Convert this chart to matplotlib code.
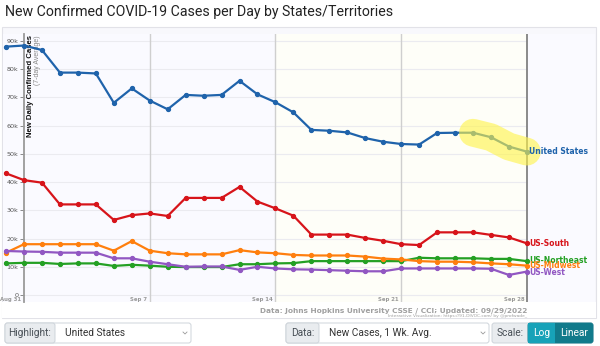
import matplotlib.pyplot as plt
from matplotlib.patches import FancyBboxPatch, Rectangle

# 7-day average of new cases (thousands), daily from Aug 30 to Sep 28 2022
days = list(range(30))  # 0 = Aug 30
us = [88.0, 88.4, 86.8, 78.8, 78.8, 78.5, 68.1, 73.2, 68.9, 65.8,
      70.9, 70.6, 70.9, 75.9, 71.1, 68.3, 64.7, 58.5, 58.2, 57.6,
      55.6, 54.3, 53.5, 53.3, 57.4, 57.5, 57.5, 55.9, 52.6, 50.8]
south = [43.1, 40.7, 39.8, 32.1, 32.1, 32.1, 26.6, 28.3, 28.9, 28.0,
         34.4, 34.4, 34.4, 38.3, 33.1, 30.7, 28.1, 21.4, 21.4, 21.4,
         20.2, 19.2, 18.0, 17.7, 22.2, 22.2, 22.2, 21.3, 20.4, 18.3]
midwest = [15.0, 18.0, 18.0, 18.0, 18.0, 18.0, 15.7, 19.1, 15.7, 14.8,
           14.4, 14.4, 14.4, 15.9, 15.1, 14.8, 14.2, 14.0, 14.0, 14.0,
           13.6, 12.9, 12.6, 12.0, 11.8, 11.8, 11.6, 11.2, 10.9, 10.4]
northeast = [11.2, 11.4, 11.4, 11.0, 11.2, 11.2, 10.3, 10.7, 10.4, 10.0,
             9.9, 9.9, 9.9, 10.9, 10.9, 11.2, 11.3, 12.0, 12.0, 12.0,
             12.0, 12.0, 12.0, 13.2, 13.0, 13.0, 13.0, 12.8, 12.8, 12.0]
west = [15.6, 15.4, 15.3, 15.0, 15.0, 15.0, 13.0, 13.0, 11.8, 10.9,
        10.0, 10.1, 10.1, 8.9, 10.0, 9.4, 9.1, 9.0, 8.8, 8.6,
        8.4, 8.4, 9.4, 9.4, 9.4, 9.4, 9.4, 9.3, 7.1, 8.3]

series_names = ["United States", "US-South", "US-Northeast", "US-Midwest", "US-West"]
series_vals = [us, south, northeast, midwest, west]
series_colors = ["#1f63ab", "#d7141a", "#24a024", "#ff7f0e", "#9157c2"]
label_nudge = [0, 0, -0.5, 0.3, 1.2]  # keep the three bottom labels apart (px)

ytick_vals = [0, 10, 20, 30, 40, 50, 60, 70, 80, 90]
ytick_labels = ["0", "10k", "20k", "30k", "40k", "50k", "60k", "70k", "80k", "90k"]
xtick_days = [1, 8, 15, 22, 29]
xtick_labels = ["Aug 31", "Sep 7", "Sep 14", "Sep 21", "Sep 28"]
highlight_from = 26

W, H = 600, 346
fig = plt.figure(figsize=(W / 100, H / 100), dpi=100)

# page layer in pixel coordinates (title, frame, controls)
page = fig.add_axes([0, 0, 1, 1], zorder=0)
page.set_xlim(0, W)
page.set_ylim(H, 0)
page.axis("off")

page.text(5, 12, "New Confirmed COVID-19 Cases per Day by States/Territories",
          fontsize=10.2, family="Roboto", color="#222222", va="center", ha="left")
page.add_patch(Rectangle((2, 27), 594, 291, facecolor="#f8f8fc",
                         edgecolor="#e2e2e8", lw=0.8))
page.add_patch(Rectangle((2, 302), 594, 16, facecolor="white", edgecolor="none"))

page.text(527, 310.5, "Data: Johns Hopkins University CSSE / CCI; Updated: 09/29/2022",
          fontsize=5.3, color="#a0a0a0", weight="bold", ha="right", va="center")
page.text(527, 316.5, "Interactive Visualization: https://91-DIVOC.com/ by @profwade_",
          fontsize=3.2, color="#a0a0a0", ha="right", va="center")


def box(x0, x1, face, edge="#ced4da"):
    page.add_patch(FancyBboxPatch((x0, 323), x1 - x0, 20,
                                  boxstyle="round,pad=0,rounding_size=2.5",
                                  facecolor=face, edgecolor=edge, lw=0.7))


def chevron(x):
    page.plot([x - 2, x, x + 2], [332, 334, 332], color="#9a9a9a", lw=0.6)


ctrl = dict(fontsize=7.3, family="Roboto", va="center")
box(5, 191, "white")
box(5, 55, "#e9ecef")
page.text(30, 333, "Highlight:", ha="center", color="#495057", **ctrl)
page.text(65, 333, "United States", ha="left", color="#333333", **ctrl)
chevron(185)

box(286, 489, "white")
box(286, 319, "#e9ecef")
page.text(302.5, 333, "Data:", ha="center", color="#495057", **ctrl)
page.text(329, 333, "New Cases, 1 Wk. Avg.", ha="left", color="#333333", **ctrl)
chevron(483)

box(492, 593, "#e9ecef")
box(528, 593, "#117a8b", edge="#117a8b")
page.add_patch(Rectangle((528, 323), 27, 20, facecolor="#17a2b8", edgecolor="none"))
page.text(510, 333, "Scale:", ha="center", color="#495057", **ctrl)
page.text(541.5, 333, "Log", ha="center", color="white", **ctrl)
page.text(574, 333, "Linear", ha="center", color="white", **ctrl)

# chart axes
ax_l, ax_r, ax_t, ax_b = 3, 595, 34, 302
ax = fig.add_axes([ax_l / W, 1 - ax_b / H, (ax_r - ax_l) / W, (ax_b - ax_t) / H], zorder=1)
px_day = 17.96
x0_px = 6.04
ax.set_xlim((ax_l - x0_px) / px_day, (ax_r - x0_px) / px_day)
px_k = 90 / 254
ax.set_ylim(-(ax_b - 295) * px_k, (295 - ax_t) * px_k)
ax.patch.set_facecolor("#fafaff")
ax.axvspan(15, 29, color="#fefef8", zorder=0, lw=0)

for s in ["top", "right", "bottom"]:
    ax.spines[s].set_visible(False)
ax.spines["left"].set_position(("data", 1))
ax.spines["left"].set_color("#9a9a9a")
ax.spines["left"].set_linewidth(1.3)
ax.set_yticks(ytick_vals)
ax.set_yticklabels(ytick_labels)
ax.tick_params(axis="y", direction="out", length=3, width=0.6, color="#777777",
               labelsize=4.6, labelcolor="#555555", pad=1)
ax.set_xticks([])

ax.hlines([v for v in ytick_vals], 1, 29, color="#ebebf0", lw=0.8, zorder=1)
for d in xtick_days[1:-1]:
    ax.axvline(d, color="#cfcfcf", lw=1.0, zorder=1)
ax.axvline(xtick_days[-1], color="#8a8a8a", lw=1.4, zorder=1)
for d, lab in zip(xtick_days, xtick_labels):
    ax.annotate(lab, (d, 0), xycoords=("data", "axes fraction"),
                xytext=(-2.5, 2), textcoords="offset pixels",
                ha="right", va="center", fontsize=3.9, weight="bold", color="#9a9a9a")

ax.annotate("New Daily Confirmed Cases", (1, 1), xycoords=("data", "axes fraction"),
            xytext=(6.5, -1), textcoords="offset pixels", rotation=90,
            ha="center", va="top", fontsize=5.6, weight="bold", color="#111111",
            family="Liberation Sans")
ax.annotate("(7-day Average)", (1, 1), xycoords=("data", "axes fraction"),
            xytext=(13.5, -1), textcoords="offset pixels", rotation=90,
            ha="center", va="top", fontsize=5.0, color="#888888",
            family="Liberation Sans")

for name, vals, col, nudge in zip(series_names, series_vals, series_colors, label_nudge):
    ax.plot(days, vals, color=col, lw=1.6, marker="o", ms=2.8, zorder=3, clip_on=False)
    ax.annotate(name, (days[-1], vals[-1]), xytext=(2.5, -nudge),
                textcoords="offset pixels", ha="left", va="center",
                fontsize=5.5, weight="bold", color=col, zorder=4)

# translucent highlight over the last days of the national curve
ax.plot(days[highlight_from:], us[highlight_from:], color="#fff44a", alpha=0.62,
        lw=20, solid_capstyle="round", zorder=3.5)

fig.savefig("out.png", dpi=100)
